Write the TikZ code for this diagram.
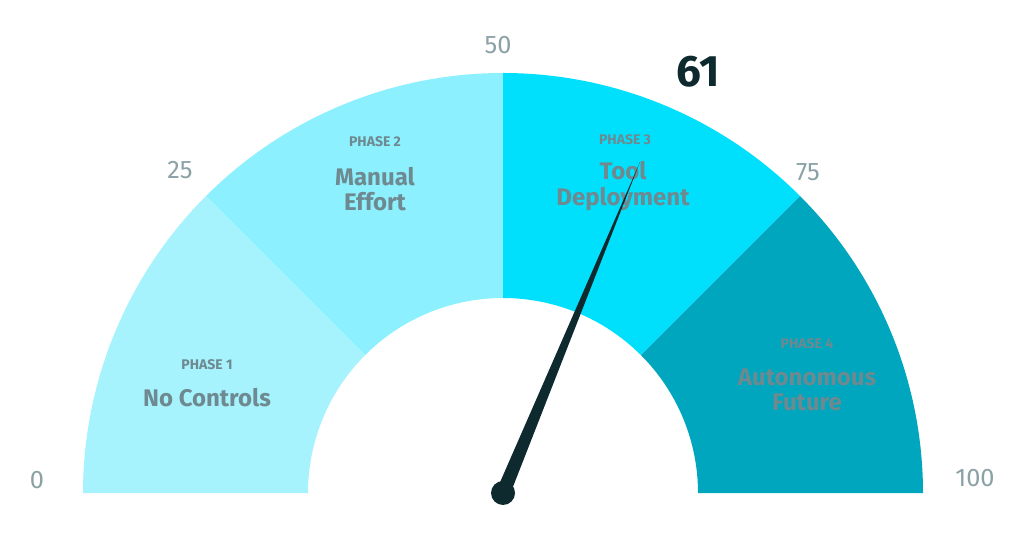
\documentclass[tikz,border=0pt]{standalone}
\usepackage{fontspec}
\setmainfont{Fira Sans}
\definecolor{c1}{HTML}{A6F3FE}
\definecolor{c2}{HTML}{8CF0FE}
\definecolor{c3}{HTML}{00E0FC}
\definecolor{c4}{HTML}{00A6BD}
\definecolor{txt}{HTML}{6E8990}
\definecolor{ndl}{HTML}{0E2A2F}
\begin{document}
\begin{tikzpicture}[x=0.75pt,y=0.75pt,
  num/.style={text=txt!80,font=\fontsize{19}{19}\selectfont},
  ph/.style={text=txt,font=\fontsize{10.5}{11}\selectfont\bfseries},
  nm/.style={text=txt,font=\fontsize{18}{19}\selectfont\bfseries,align=center}]
\useasboundingbox (0,0) rectangle (1024,539);
\coordinate (C) at (503,46);
\foreach \a/\b/\c in {180/135/c1,135/90/c2,90/45/c3,45/0/c4}{
  \fill[\c] ([shift={(\a:420)}]C) arc[start angle=\a,end angle=\b,radius=420]
    -- ([shift={(\b:195)}]C) arc[start angle=\b,end angle=\a,radius=195] -- cycle;}
\node[num] (n0) at (37,59) {0};
\node[num] (n25) at (180,369) {25};
\node[num] (n50) at (498,494) {50};
\node[num] (n75) at (808,367) {75};
\node[num] (n100) at (975,61) {100};
\node[text=ndl,font=\fontsize{33}{33}\selectfont\bfseries] (v) at (698,467) {61};
\node[ph] (p1) at (207,174) {PHASE 1};
\node[nm] (l1) at (207,141) {No Controls};
\node[ph] (p2) at (375,397) {PHASE 2};
\node[nm] (l2) at (375,350) {Manual\\Effort};
\node[ph] (p3) at (625,399) {PHASE 3};
\node[nm] (l3) at (623,353) {Tool\\Deployment};
\node[ph] (p4) at (807,195) {PHASE 4};
\node[nm] (l4) at (807,149) {Autonomous\\Future};
\coordinate (tip) at (640,377);
\fill[ndl] (509.5,43.3) -- (tip) -- (496.5,48.7) -- cycle;
\fill[ndl] (C) circle[radius=12];
\end{tikzpicture}
\end{document}
